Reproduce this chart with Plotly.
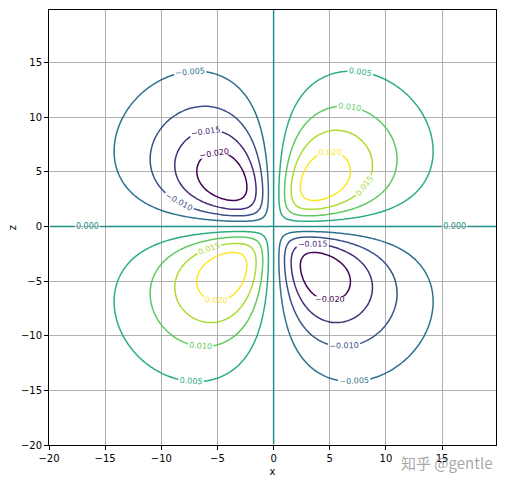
import numpy as np
import plotly.graph_objects as go

# Hydrogen 3d_xz orbital in the y = 0 plane (atomic units)
n_radial = 3
norm = np.sqrt(2) / (81 * np.sqrt(np.pi))
grid_step = 0.2
x_vals = np.round(np.arange(-19.9, 20.0, grid_step), 6)
z_vals = np.round(np.arange(-19.9, 20.0, grid_step), 6)

# contour levels
level_start = -0.020
level_end = 0.020
level_step = 0.005

# axis ticks
x_ticks = [-20, -15, -10, -5, 0, 5, 10, 15]
z_ticks = [-20, -15, -10, -5, 0, 5, 10, 15]

X, Z = np.meshgrid(x_vals, z_vals)
R = np.sqrt(X**2 + Z**2)
psi = norm * X * Z * np.exp(-R / n_radial)

fig = go.Figure()
fig.add_trace(go.Contour(
    x=x_vals, y=z_vals, z=psi,
    colorscale="Viridis",
    zmin=level_start, zmax=level_end, zauto=False,
    autocontour=False,
    contours=dict(start=level_start, end=level_end + 1e-9, size=level_step,
                  coloring="lines", showlabels=True,
                  labelfont=dict(size=8, family="DejaVu Sans"),
                  labelformat=".3f"),
    line=dict(width=1.5),
    showscale=False,
    hoverinfo="skip",
))

axis_common = dict(
    showgrid=True, gridcolor="#b0b0b0", gridwidth=0.8,
    zeroline=False, showline=True, linecolor="black", linewidth=1,
    mirror=True, ticks="outside", ticklen=4, tickcolor="black",
    automargin=False,
    tickfont=dict(size=10, family="DejaVu Sans", color="black"),
    title_font=dict(size=10, family="DejaVu Sans", color="black"),
)
fig.update_layout(
    width=506, height=483,
    margin=dict(l=49, r=10, t=10, b=38, autoexpand=False),
    paper_bgcolor="white", plot_bgcolor="white",
    xaxis=dict(range=[-20, 19.8], tickvals=x_ticks, title=dict(text="x", standoff=4), **axis_common),
    yaxis=dict(range=[-20, 19.8], tickvals=z_ticks, title=dict(text="z", standoff=2), **axis_common),
    showlegend=False,
)
fig.add_annotation(
    text="知乎 @gentle", xref="paper", yref="paper", x=0.995, y=-0.012,
    xanchor="right", yanchor="top", showarrow=False,
    font=dict(size=15, family="Noto Sans CJK SC", color="rgba(150,150,150,0.85)"),
)
fig.write_html(
    "out.html",
    config={"displayModeBar": False},
    post_script="document.body.style.margin='0';document.body.style.overflow='hidden';",
)
